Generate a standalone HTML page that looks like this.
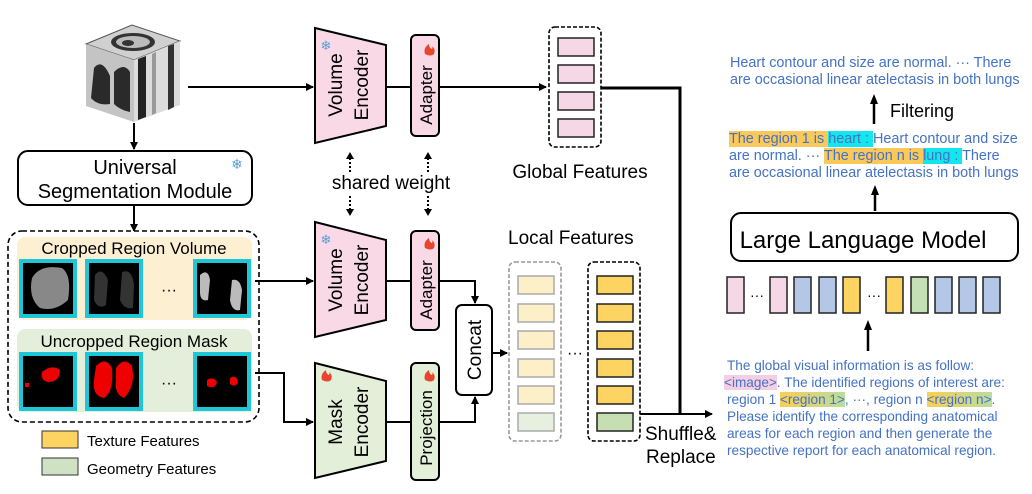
<!DOCTYPE html>
<html><head><meta charset="utf-8"><style>
body{margin:0;background:#fff;}
#w{position:relative;width:1032px;height:494px;overflow:hidden;font-family:"Liberation Sans",sans-serif;}
.t{position:absolute;white-space:nowrap;}
.b{color:#4472c4;font-size:13.6px;line-height:17px;}
.b2{color:#4472c4;font-size:14.4px;line-height:17px;}
.y{background:#fbc85a;}
.c{background:#14e6ee;}
.p{background:#f4cfe3;}
.g{background:linear-gradient(90deg,#f8cf55,#b9dca0);}
</style></head><body><div id="w">
<svg width="1032" height="494" style="position:absolute;left:0;top:0" font-family="Liberation Sans, sans-serif">
<defs>
<marker id="a" markerWidth="8" markerHeight="8" refX="7" refY="4" orient="auto" markerUnits="userSpaceOnUse"><path d="M0,0 L8,4 L0,8 z" fill="#000"/></marker>
</defs>
<!-- cube -->
<polygon points="86,44 132,25 180,41 134,60" fill="#d0d0d0" stroke="#555"/>
<ellipse cx="133" cy="42" rx="22" ry="9" fill="#333"/>
<ellipse cx="133" cy="42" rx="17" ry="6" fill="#bbb"/>
<ellipse cx="128" cy="43" rx="6" ry="3" fill="#333"/>
<polygon points="86,44 134,60 134,122 86,106" fill="#c4c4c4"/>
<path d="M94,68 Q102,58 110,76 L110,104 Q98,106 91,98 Z" fill="#2a2a2a"/>
<path d="M114,72 Q124,62 130,72 L130,112 Q120,110 114,104 Z" fill="#2a2a2a"/>
<polygon points="134,60 180,41 180,105 134,122" fill="#dcdcdc"/>
<polygon points="138,59 146,56 146,117 138,120" fill="#222"/>
<polygon points="168,46 174,44 174,107 168,110" fill="#333"/>
<polygon points="152,54 156,52 156,113 152,115" fill="#999"/>
<!-- arrows from cube -->
<line x1="188" y1="87" x2="313" y2="87" stroke="#000" stroke-width="2" marker-end="url(#a)"/>
<line x1="134" y1="123" x2="134" y2="149" stroke="#000" stroke-width="2" marker-end="url(#a)"/>
<line x1="134" y1="205" x2="134" y2="231" stroke="#000" stroke-width="2" marker-end="url(#a)"/>
<!-- USM -->
<rect x="18" y="151" width="234" height="54" rx="10" fill="#fff" stroke="#000" stroke-width="2"/>
<text x="135" y="174" font-size="20" text-anchor="middle">Universal</text>
<text x="135" y="198" font-size="20" text-anchor="middle">Segmentation Module</text>
<text x="237" y="169" font-size="14" fill="#5b9bd5" text-anchor="middle">❄</text>
<!-- dashed region box -->
<rect x="8" y="231" width="251" height="191" rx="14" fill="#fff" stroke="#000" stroke-width="1.6" stroke-dasharray="5,3"/>
<rect x="17" y="237" width="235" height="83" rx="8" fill="#fdf0d2"/>
<rect x="17" y="329" width="235" height="83" rx="8" fill="#e4efdb"/>
<text x="134" y="254" font-size="17" text-anchor="middle">Cropped Region Volume</text>
<text x="134" y="347" font-size="17" text-anchor="middle">Uncropped Region Mask</text>
<g stroke="#1fc6d8" stroke-width="4">
<rect x="21" y="261" width="54" height="55" fill="#000"/>
<rect x="87" y="261" width="54" height="55" fill="#000"/>
<rect x="195" y="261" width="54" height="55" fill="#000"/>
<rect x="21" y="354" width="54" height="55" fill="#000"/>
<rect x="87" y="354" width="54" height="55" fill="#000"/>
<rect x="195" y="354" width="54" height="55" fill="#000"/>
</g>
<path d="M32,278 Q40,264 62,268 Q72,275 68,300 Q55,312 40,308 Q28,298 32,278Z" fill="#888"/>
<path d="M95,275 Q102,266 108,280 L106,305 Q98,310 94,300Z M122,272 Q132,268 134,285 L133,308 Q124,310 120,300Z" fill="#333"/>
<path d="M200,275 Q208,268 210,280 L208,300 Q200,302 200,292Z M232,280 Q240,278 242,290 L240,310 Q232,312 230,300Z" fill="#bbb"/>
<path d="M42,372 Q52,364 60,370 Q60,382 48,382 Q40,380 42,372Z M25,383 l4,0 l0,4 l-4,0z" fill="#e00"/>
<path d="M96,366 Q106,356 112,368 Q114,392 104,398 Q92,396 94,380Z M116,368 Q124,356 132,366 Q136,386 124,398 Q114,394 116,380Z" fill="#e00"/>
<path d="M207,380 q6,-4 10,2 q-2,8 -10,4z M230,378 q6,-4 8,4 q-2,6 -8,2z" fill="#e00"/>
<text x="169" y="295" font-size="16" text-anchor="middle">···</text>
<text x="169" y="388" font-size="16" text-anchor="middle">···</text>
<!-- legend -->
<rect x="42" y="431" width="36" height="17" fill="#fdd462" stroke="#333"/>
<text x="87" y="446" font-size="15">Texture Features</text>
<rect x="42" y="458" width="36" height="17" fill="#cfe2c3" stroke="#333"/>
<text x="87" y="474" font-size="15">Geometry Features</text>
<!-- encoders -->
<polygon points="315,28 386,45 386,126 315,143" fill="#f9d9e6" stroke="#000" stroke-width="2"/>
<polygon points="315,222 386,240 386,320 315,337" fill="#f9d9e6" stroke="#000" stroke-width="2"/>
<polygon points="315,363 386,381 386,461 315,478" fill="#e3efd9" stroke="#000" stroke-width="2"/>
<text transform="translate(342,85) rotate(-90)" font-size="19" text-anchor="middle">Volume</text>
<text transform="translate(368,85) rotate(-90)" font-size="19" text-anchor="middle">Encoder</text>
<text transform="translate(342,280) rotate(-90)" font-size="19" text-anchor="middle">Volume</text>
<text transform="translate(368,280) rotate(-90)" font-size="19" text-anchor="middle">Encoder</text>
<text transform="translate(342,422) rotate(-90)" font-size="19" text-anchor="middle">Mask</text>
<text transform="translate(368,422) rotate(-90)" font-size="19" text-anchor="middle">Encoder</text>
<text x="326" y="50" font-size="13" fill="#5b9bd5" text-anchor="middle">❄</text>
<text x="326" y="244" font-size="13" fill="#5b9bd5" text-anchor="middle">❄</text>
<!-- adapters -->
<rect x="411" y="35" width="28" height="101" rx="5" fill="#f9d9e6" stroke="#000" stroke-width="2"/>
<rect x="411" y="231" width="28" height="99" rx="5" fill="#f9d9e6" stroke="#000" stroke-width="2"/>
<rect x="411" y="363" width="28" height="117" rx="5" fill="#e3efd9" stroke="#000" stroke-width="2"/>
<text transform="translate(432,95) rotate(-90)" font-size="17" text-anchor="middle">Adapter</text>
<text transform="translate(432,290) rotate(-90)" font-size="17" text-anchor="middle">Adapter</text>
<text transform="translate(432,428) rotate(-90)" font-size="17" text-anchor="middle">Projection</text>
<path d="M425,54 q-2,-6 4,-10 q0,4 3,5 q1,-2 0,-3 q4,3 2,8 q-3,3 -9,0z" fill="#e8452c"/>
<path d="M425,248 q-2,-6 4,-10 q0,4 3,5 q1,-2 0,-3 q4,3 2,8 q-3,3 -9,0z" fill="#e8452c"/>
<path d="M425,380 q-2,-6 4,-10 q0,4 3,5 q1,-2 0,-3 q4,3 2,8 q-3,3 -9,0z" fill="#e8452c"/>
<path d="M322,380 q-2,-6 4,-10 q0,4 3,5 q1,-2 0,-3 q4,3 2,8 q-3,3 -9,0z" fill="#e8452c"/>
<path d="M998,233 q-2,-6 4,-10 q0,4 3,5 q1,-2 0,-3 q4,3 2,8 q-3,3 -9,0z" fill="#e8452c"/>
<!-- shared weight -->
<text x="391" y="189" font-size="19" text-anchor="middle">shared weight</text>
<g stroke="#000" stroke-width="2" stroke-dasharray="2,2">
<line x1="350" y1="158" x2="350" y2="172"/><line x1="350" y1="196" x2="350" y2="210"/>
<line x1="428" y1="158" x2="428" y2="172"/><line x1="428" y1="196" x2="428" y2="210"/>
</g>
<g fill="#000">
<path d="M346,159 L350,152 L354,159z"/><path d="M346,209 L350,216 L354,209z"/>
<path d="M424,159 L428,152 L432,159z"/><path d="M424,209 L428,216 L432,209z"/>
</g>
<!-- connectors -->
<g stroke="#000" stroke-width="2" fill="none">
<line x1="386" y1="87" x2="411" y2="87"/>
<line x1="439" y1="87" x2="546" y2="87" marker-end="url(#a)"/>
<line x1="255" y1="281" x2="313" y2="281" marker-end="url(#a)"/>
<line x1="386" y1="281" x2="411" y2="281"/>
<polyline points="439,281 475,281 475,303" marker-end="url(#a)"/>
<polyline points="255,373 284,373 284,422 313,422" marker-end="url(#a)"/>
<line x1="386" y1="422" x2="411" y2="422"/>
<polyline points="439,422 475,422 475,397" marker-end="url(#a)"/>
<line x1="492" y1="353" x2="507" y2="353" marker-end="url(#a)"/>
</g>
<g stroke="#000" stroke-width="3" fill="none">
<polyline points="601,88 680,88 680,414"/>
<line x1="640" y1="414" x2="712" y2="414" stroke-width="2" marker-end="url(#a)"/>
</g>
<!-- concat -->
<rect x="456" y="305" width="36" height="90" rx="6" fill="#fff" stroke="#000" stroke-width="2"/>
<text transform="translate(481,350) rotate(-90)" font-size="19" text-anchor="middle">Concat</text>
<!-- global features -->
<rect x="549" y="27" width="52" height="120" rx="6" fill="#fff" stroke="#000" stroke-width="1.6" stroke-dasharray="4,2"/>
<g fill="#f6d7e6" stroke="#222" stroke-width="1.5">
<rect x="558" y="38" width="36" height="18"/><rect x="558" y="65" width="36" height="18"/>
<rect x="558" y="92" width="36" height="18"/><rect x="558" y="119" width="36" height="18"/>
</g>
<text x="580" y="178" font-size="19" text-anchor="middle">Global Features</text>
<!-- local features -->
<text x="508" y="244" font-size="19">Local Features</text>
<rect x="509" y="262" width="52" height="179" rx="6" fill="#fff" stroke="#999" stroke-width="1.6" stroke-dasharray="4,2"/>
<g fill="#fdefc8" stroke="#aaa" stroke-width="1.5">
<rect x="518" y="276" width="36" height="18"/><rect x="518" y="304" width="36" height="18"/>
<rect x="518" y="331" width="36" height="18"/><rect x="518" y="359" width="36" height="18"/>
<rect x="518" y="386" width="36" height="18"/><rect x="518" y="413" width="36" height="18" fill="#e6f0de"/>
</g>
<text x="575" y="358" font-size="16" text-anchor="middle">···</text>
<rect x="588" y="262" width="52" height="179" rx="6" fill="#fff" stroke="#000" stroke-width="1.6" stroke-dasharray="4,2"/>
<g fill="#fdd462" stroke="#222" stroke-width="1.5">
<rect x="597" y="276" width="36" height="18"/><rect x="597" y="304" width="36" height="18"/>
<rect x="597" y="331" width="36" height="18"/><rect x="597" y="359" width="36" height="18"/>
<rect x="597" y="386" width="36" height="18"/><rect x="597" y="413" width="36" height="18" fill="#c5dfb3"/>
</g>
<text x="645" y="440" font-size="19">Shuffle&amp;</text>
<text x="646" y="463" font-size="19">Replace</text>
<!-- LLM -->
<rect x="731" y="213" width="287" height="48" rx="10" fill="#fff" stroke="#000" stroke-width="2"/>
<text x="863" y="248" font-size="24" text-anchor="middle">Large Language Model</text>
<g stroke="#222" stroke-width="1.5">
<rect x="727" y="277" width="17" height="36" fill="#f6d7e6"/>
<rect x="770" y="277" width="17" height="36" fill="#f6d7e6"/>
<rect x="794" y="277" width="17" height="36" fill="#b4c7e7"/>
<rect x="819" y="277" width="17" height="36" fill="#b4c7e7"/>
<rect x="843" y="277" width="17" height="36" fill="#fdd462"/>
<rect x="886" y="277" width="17" height="36" fill="#fdd462"/>
<rect x="911" y="277" width="17" height="36" fill="#c5e0b4"/>
<rect x="935" y="277" width="17" height="36" fill="#b4c7e7"/>
<rect x="959" y="277" width="17" height="36" fill="#b4c7e7"/>
<rect x="983" y="277" width="17" height="36" fill="#b4c7e7"/>
</g>
<text x="757" y="300" font-size="14" text-anchor="middle">···</text>
<text x="874" y="300" font-size="14" text-anchor="middle">···</text>
<g stroke="#000" stroke-width="2.5">
<line x1="868" y1="351" x2="868" y2="328"/>
<line x1="875" y1="211" x2="875" y2="193"/>
<line x1="874" y1="124" x2="874" y2="102"/>
</g>
<g fill="#000">
<path d="M864,330 L868,320 L872,330z"/><path d="M871,195 L875,185 L879,195z"/><path d="M870,104 L874,94 L878,104z"/>
</g>
<text x="890" y="117" font-size="18">Filtering</text>
</svg>
<div class="t b2" style="left:730px;top:55px">Heart contour and size are normal. ··· There</div>
<div class="t b2" style="left:730px;top:72px">are occasional linear atelectasis in both lungs</div>
<div class="t b2" style="left:729px;top:131px"><span class="y">The region 1 is </span><span class="c"> heart : </span>Heart contour and size</div>
<div class="t b2" style="left:729px;top:148px">are normal. ··· <span class="y">The region n is </span><span class="c"> lung : </span>There</div>
<div class="t b2" style="left:729px;top:165px">are occasional linear atelectasis in both lungs</div>
<div class="t b" style="left:727px;top:357px">The global visual information is as follow:</div>
<div class="t b" style="left:724px;top:374px"><span class="p">&lt;image&gt;</span>. The identified regions of interest are:</div>
<div class="t b" style="left:727px;top:391px">region 1 <span class="g">&lt;region 1&gt;</span>, ···, region n <span class="g">&lt;region n&gt;</span>.</div>
<div class="t b" style="left:727px;top:408px">Please identify the corresponding anatomical</div>
<div class="t b" style="left:727px;top:425px">areas for each region and then generate the</div>
<div class="t b" style="left:727px;top:442px">respective report for each anatomical region.</div>
</div></body></html>
